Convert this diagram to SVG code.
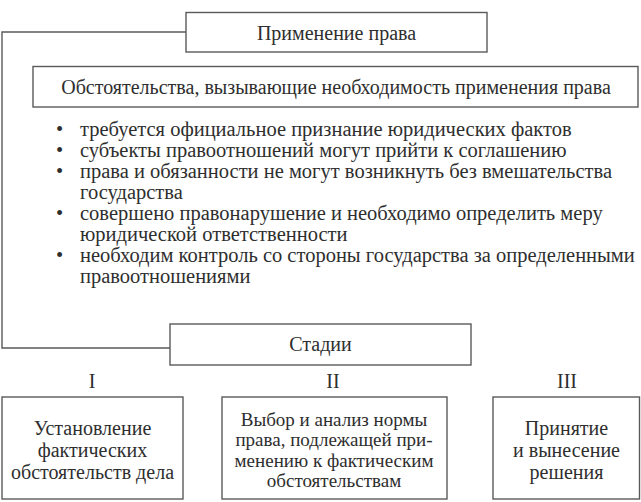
<svg xmlns="http://www.w3.org/2000/svg" width="641" height="502" viewBox="0 0 641 502">
<style>
.box{fill:#fff;stroke:#5a5a5a;stroke-width:1.4}
.ln{fill:none;stroke:#5a5a5a;stroke-width:1.4}
text{fill:#2e2e2e;font-family:"Liberation Serif",serif;font-size:20px}
.c{text-anchor:middle}
.li text{font-size:20.5px}
#stage2 .t{font-size:19px}
</style>
<rect width="641" height="502" fill="#fff"/>
<g id="connectors">
<path class="ln" d="M186,32 H2 V348 H170"/>
</g>
<g id="root">
<rect class="box" x="186" y="12.5" width="301" height="39.5"/>
<text class="c" x="336.5" y="40">Применение права</text>
</g>
<g id="circumstances">
<rect class="box" x="33" y="66.5" width="605" height="40.5"/>
<text class="c" x="336" y="94">Обстоятельства, вызывающие необходимость применения права</text>
</g>
<g id="list" class="li">
<text x="56" y="136">•</text><text x="80" y="136">требуется официальное признание юридических фактов</text>
<text x="56" y="157">•</text><text x="80" y="157">субъекты правоотношений могут прийти к соглашению</text>
<text x="56" y="178">•</text><text x="80" y="178">права и обязанности не могут возникнуть без вмешательства</text>
<text x="80" y="199">государства</text>
<text x="56" y="220">•</text><text x="80" y="220">совершено правонарушение и необходимо определить меру</text>
<text x="80" y="241">юридической ответственности</text>
<text x="56" y="262">•</text><text x="80" y="262">необходим контроль со стороны государства за определенными</text>
<text x="80" y="283">правоотношениями</text>
</g>
<g id="stages">
<rect class="box" x="170" y="324" width="301" height="41"/>
<text class="c" x="320.5" y="351">Стадии</text>
</g>
<g id="stage1">
<text class="c" x="92" y="388">I</text>
<rect class="box" x="2" y="397" width="181" height="102"/>
<text class="c" x="92.5" y="435">Установление</text>
<text class="c" x="92.5" y="457">фактических</text>
<text class="c" x="92.5" y="479">обстоятельств дела</text>
</g>
<g id="stage2">
<text class="c" x="333" y="388">II</text>
<rect class="box" x="222" y="397" width="225" height="102"/>
<text class="c t" x="334" y="425.5">Выбор и анализ нормы</text>
<text class="c t" x="334" y="446">права, подлежащей при-</text>
<text class="c t" x="334" y="466.5">менению к фактическим</text>
<text class="c t" x="334" y="487">обстоятельствам</text>
</g>
<g id="stage3">
<text class="c" x="567" y="388">III</text>
<rect class="box" x="493" y="397" width="146.5" height="102"/>
<text class="c" x="566.5" y="435">Принятие</text>
<text class="c" x="566.5" y="457">и вынесение</text>
<text class="c" x="566.5" y="479">решения</text>
</g>
</svg>
